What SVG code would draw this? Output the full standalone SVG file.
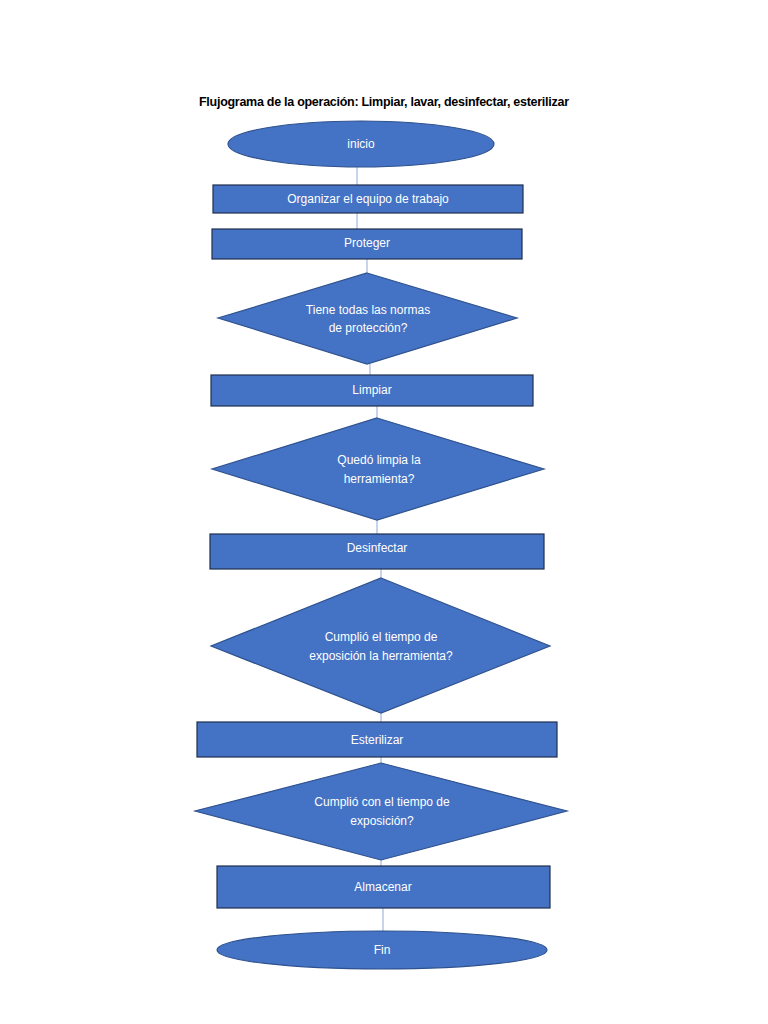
<svg xmlns="http://www.w3.org/2000/svg" width="768" height="1024" viewBox="0 0 768 1024">
<style>
.s{fill:#4472C4;stroke:#2F528F;stroke-width:1.2}
.r{fill:#4472C4;stroke:#1f2f4f;stroke-width:1.2}
.t{font-family:"Liberation Sans",Arial,sans-serif;font-size:12px;fill:#fff;text-anchor:middle}
.c{stroke:#8fa9d9;stroke-width:1;fill:none}
</style>
<rect width="768" height="1024" fill="#fff"/>
<text x="384" y="106" style="font-family:'Liberation Sans',Arial,sans-serif;font-size:12.5px;font-weight:bold;text-anchor:middle" textLength="370">Flujograma de la operación: Limpiar, lavar, desinfectar, esterilizar</text>
<g id="connectors">
<path class="c" d="M357 167V185M357 213V229M367 259V273M370 364V375M377 406V418M377 520V534M381 569V578M381 713V722M381 757V763M381 860V866M383 908V931"/>
</g>
<g id="inicio"><ellipse class="s" cx="361" cy="144" rx="133" ry="23"/><text class="t" x="361" y="148">inicio</text></g>
<g id="organizar"><rect class="r" x="213" y="185" width="310" height="28"/><text class="t" x="368" y="203">Organizar el equipo de trabajo</text></g>
<g id="proteger"><rect class="r" x="212" y="229" width="310" height="30"/><text class="t" x="367" y="247">Proteger</text></g>
<g id="d1"><polygon class="s" points="367,273 517,318 367,364 218,318"/><text class="t" x="368" y="314">Tiene todas las normas</text><text class="t" x="368" y="332">de protección?</text></g>
<g id="limpiar"><rect class="r" x="211" y="375" width="322" height="31"/><text class="t" x="372" y="394">Limpiar</text></g>
<g id="d2"><polygon class="s" points="377,418 544,469 377,520 212,469"/><text class="t" x="379" y="464">Quedó limpia la</text><text class="t" x="379" y="483">herramienta?</text></g>
<g id="desinfectar"><rect class="r" x="210" y="534" width="334" height="35"/><text class="t" x="377" y="552">Desinfectar</text></g>
<g id="d3"><polygon class="s" points="381,578 550,646 381,713 211,646"/><text class="t" x="381" y="641">Cumplió el tiempo de</text><text class="t" x="381" y="660">exposición la herramienta?</text></g>
<g id="esterilizar"><rect class="r" x="197" y="722" width="360" height="35"/><text class="t" x="377" y="744">Esterilizar</text></g>
<g id="d4"><polygon class="s" points="381,763 567,811 381,860 195,811"/><text class="t" x="382" y="806">Cumplió con el tiempo de</text><text class="t" x="382" y="825">exposición?</text></g>
<g id="almacenar"><rect class="r" x="217" y="866" width="333" height="42"/><text class="t" x="383" y="891">Almacenar</text></g>
<g id="fin"><ellipse class="s" cx="382" cy="950" rx="165" ry="19"/><text class="t" x="382" y="954">Fin</text></g>
</svg>
